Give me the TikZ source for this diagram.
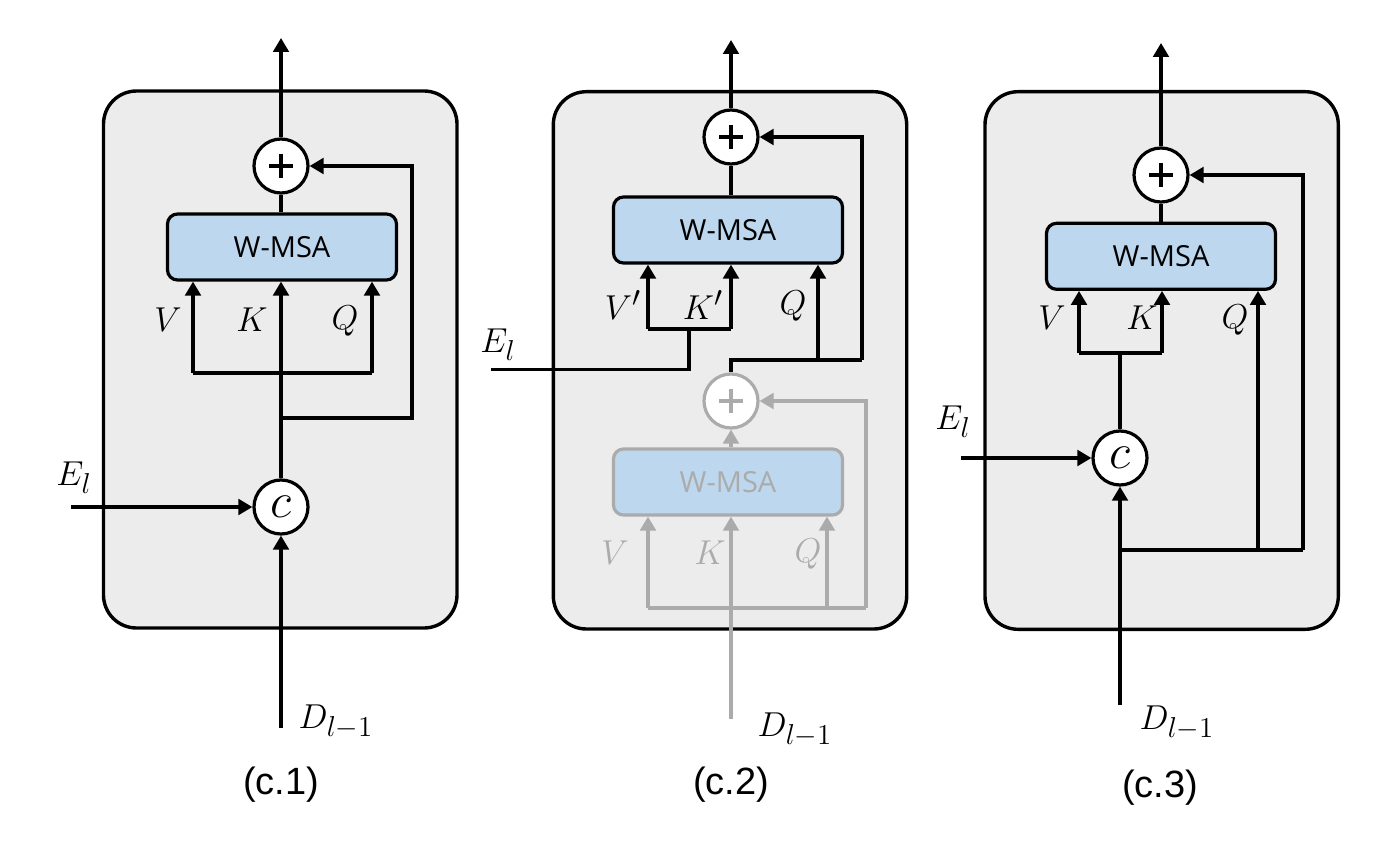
\documentclass[tikz,border=0pt]{standalone}
\usepackage{fontspec}
\setmainfont{Liberation Sans}
\newfontfamily\wfont{Open Sans}
\usetikzlibrary{arrows.meta}
\definecolor{boxgray}{HTML}{ECECEC}
\definecolor{msablue}{HTML}{BDD7EE}
\definecolor{fadegray}{HTML}{ABABAB}
\begin{document}
\begin{tikzpicture}[x=0.5pt,y=-0.5pt,
  panel/.style={draw, line width=1.7pt, fill=boxgray, rounded corners=16.5pt},
  msa/.style={draw, line width=1.6pt, fill=msablue, rounded corners=5pt, inner sep=0pt,
    minimum width=114.5pt, minimum height=33pt, font=\wfont\fontsize{14.5}{16}\selectfont},
  op/.style={circle, draw, fill=white, line width=1.6pt, minimum size=27pt, inner sep=0pt,
    font=\fontsize{26}{26}\selectfont},
  plusop/.style={op, path picture={\draw[line width=2pt]
    ([xshift=-6pt]path picture bounding box.center) -- ([xshift=6pt]path picture bounding box.center)
    ([yshift=-6pt]path picture bounding box.center) -- ([yshift=6pt]path picture bounding box.center);}},
  gplusop/.style={op, draw=fadegray, path picture={\draw[line width=2pt, fadegray]
    ([xshift=-6pt]path picture bounding box.center) -- ([xshift=6pt]path picture bounding box.center)
    ([yshift=-6pt]path picture bounding box.center) -- ([yshift=6pt]path picture bounding box.center);}},
  lbl/.style={font=\fontsize{19}{21}\selectfont, inner sep=0pt},
  caption/.style={font=\fontsize{19}{22}\selectfont, inner sep=0pt},
  wire/.style={line width=1.6pt},
  arr/.style={wire, -{Triangle[length=7pt,width=7.8pt]}},
  faded/.style={draw=fadegray, text=fadegray}
]
\useasboundingbox (0,0) rectangle (1375,850);

% ================= Panel 1 =================
\draw[panel] (103.5,91) rectangle (457,628);
\node[plusop] (p1) at (281,166) {};
\node[msa] (m1) at (282,247) {W-MSA};
\node[op] (c1) at (281,507) {$c$};
\coordinate (t1) at (281,38);
\coordinate (v1) at (193,373);
\coordinate (q1) at (372,373);
\coordinate (s1) at (412,418);
\coordinate (e1) at (71,507);
\coordinate (d1) at (281,728);
\draw[arr] (p1.north) -- (t1);
\draw[wire] (m1.north -| p1) -- (p1.south);
\draw[wire] (v1) -- (q1);
\draw[arr] (v1) -- (v1 |- m1.south);
\draw[arr] (q1) -- (q1 |- m1.south);
\draw[arr] (c1.north) -- (c1 |- m1.south);
\draw[arr] (c1 |- s1) -- (s1) -- (s1 |- p1) -- (p1.east);
\draw[arr] (e1) -- (c1.west);
\draw[arr] (d1) -- (c1.south);
\node[lbl] (lv1) at (168,320) {$V$};
\node[lbl] (lk1) at (252,320) {$K$};
\node[lbl] (lq1) at (345,321) {$Q$};
\node[lbl] (le1) at (74,478) {$E_l$};
\node[lbl] (ld1) at (336,722) {$D_{l-1}$};
\node[caption] (n1) at (281,785) {(c.1)};

% ================= Panel 2 =================
\draw[panel] (553.3,91.7) rectangle (906.7,629);
% faded lower block
\node[gplusop] (gp2) at (731,401) {};
\node[msa, faded] (gm2) at (728,482) {W-MSA};
\coordinate (gv2) at (648,608);
\coordinate (gq2) at (827,608);
\coordinate (gr2) at (866,608);
\coordinate (d2) at (731,719);
\draw[wire, fadegray] (gv2) -- (gr2);
\draw[arr, fadegray] (gv2) -- (gv2 |- gm2.south);
\draw[arr, fadegray] (gq2) -- (gq2 |- gm2.south);
\draw[arr, fadegray] (gr2) -- (gr2 |- gp2) -- (gp2.east);
\draw[arr, fadegray] (d2) -- (d2 |- gm2.south);
\draw[arr, fadegray] (gm2.north -| gp2) -- (gp2.south);
\node[lbl, text=fadegray] (glv2) at (615,553) {$V$};
\node[lbl, text=fadegray] (glk2) at (710,553) {$K$};
\node[lbl, text=fadegray] (glq2) at (808,554) {$Q$};
% upper block
\node[plusop] (p2) at (731,137) {};
\node[msa] (m2) at (728,230) {W-MSA};
\coordinate (t2) at (731,40);
\coordinate (vb2) at (648,329);
\coordinate (kb2) at (731,329);
\coordinate (ej2) at (689,329);
\coordinate (ec2) at (689,369.5);
\coordinate (e2) at (491,369.5);
\coordinate (r2) at (731,360);
\coordinate (q2) at (818,360);
\coordinate (rr2) at (862,360);
\draw[arr] (p2.north) -- (t2);
\draw[wire] (m2.north -| p2) -- (p2.south);
\draw[wire] (vb2) -- (kb2);
\draw[arr] (vb2) -- (vb2 |- m2.south);
\draw[arr] (kb2) -- (kb2 |- m2.south);
\draw[wire] (e2) -- (ec2) -- (ej2);
\draw[wire] (gp2.north) -- (r2) -- (rr2);
\draw[arr] (q2) -- (q2 |- m2.south);
\draw[arr] (rr2) -- (rr2 |- p2) -- (p2.east);
\node[lbl] (lv2) at (623,305) {$V'$};
\node[lbl] (lk2) at (703,305) {$K'$};
\node[lbl] (lq2) at (793,306) {$Q$};
\node[lbl] (le2) at (498,345) {$E_l$};
\node[lbl] (ld2) at (795,730) {$D_{l-1}$};
\node[caption] (n2) at (731,785) {(c.2)};

% ================= Panel 3 =================
\draw[panel] (985,91.7) rectangle (1338.3,629.3);
\node[plusop] (p3) at (1161,175) {};
\node[msa] (m3) at (1161,256.3) {W-MSA};
\node[op] (c3) at (1120,458) {$c$};
\coordinate (t3) at (1161,43);
\coordinate (v3) at (1079,353);
\coordinate (k3) at (1162,353);
\coordinate (b3) at (1120,550);
\coordinate (q3) at (1258,550);
\coordinate (r3) at (1303,550);
\coordinate (e3) at (961,458);
\coordinate (d3) at (1120,705);
\draw[arr] (p3.north) -- (t3);
\draw[wire] (m3.north -| p3) -- (p3.south);
\draw[wire] (v3) -- (k3);
\draw[arr] (v3) -- (v3 |- m3.south);
\draw[arr] (k3) -- (k3 |- m3.south);
\draw[wire] (c3.north) -- (c3 |- v3);
\draw[wire] (b3) -- (r3);
\draw[arr] (q3) -- (q3 |- m3.south);
\draw[arr] (r3) -- (r3 |- p3) -- (p3.east);
\draw[arr] (e3) -- (c3.west);
\draw[arr] (d3) -- (c3.south);
\node[lbl] (lv3) at (1052,318) {$V$};
\node[lbl] (lk3) at (1142,318) {$K$};
\node[lbl] (lq3) at (1235,320) {$Q$};
\node[lbl] (le3) at (953,422) {$E_l$};
\node[lbl] (ld3) at (1177,723) {$D_{l-1}$};
\node[caption] (n3) at (1160,788) {(c.3)};
\end{tikzpicture}
\end{document}
